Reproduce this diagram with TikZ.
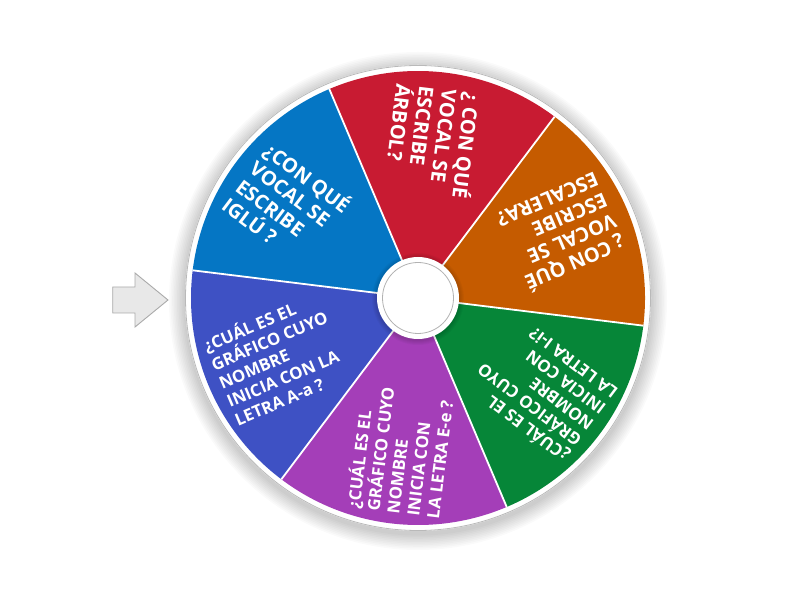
\documentclass[tikz,border=0pt]{standalone}
\usepackage{fontspec}
\setmainfont{Open Sans}
\definecolor{segred}{RGB}{200,27,50}
\definecolor{segorange}{RGB}{197,91,0}
\definecolor{seggreen}{RGB}{6,134,56}
\definecolor{segpurple}{RGB}{164,62,184}
\definecolor{segindigo}{RGB}{62,81,196}
\definecolor{segblue}{RGB}{5,118,196}
\definecolor{arrowfill}{RGB}{232,232,232}
\definecolor{arrowline}{RGB}{170,170,170}
\tikzset{
  wtext/.style={text=white, font=\bfseries\fontsize{16.8}{20}\selectfont, align=left, inner sep=0pt, anchor=west},
  bigtext/.style={wtext, font=\bfseries\fontsize{20}{23}\selectfont},
  sepline/.style={white, line width=1.8pt},
}
\begin{document}
\begin{tikzpicture}[x=1pt,y=1pt]
\useasboundingbox[fill=white] (0,0) rectangle (800,600);
\coordinate (C) at (418,302);
% soft shadow
\foreach \i in {1,...,10}{
  \fill[black, opacity=0.018] ([yshift=-3]C) circle[radius=233+1.6*\i];
}
% rim
\fill[white] (C) circle[radius=233];
\draw[gray!55, line width=0.8pt] (C) circle[radius=232.5];
% segments
\fill[segred]    (C) -- ++(53:227)  arc[start angle=53,  end angle=113, radius=227] -- cycle;
\fill[segblue]   (C) -- ++(113:227) arc[start angle=113, end angle=173, radius=227] -- cycle;
\fill[segindigo] (C) -- ++(173:227) arc[start angle=173, end angle=233, radius=227] -- cycle;
\fill[segpurple] (C) -- ++(233:227) arc[start angle=233, end angle=293, radius=227] -- cycle;
\fill[seggreen]  (C) -- ++(293:227) arc[start angle=293, end angle=353, radius=227] -- cycle;
\fill[segorange] (C) -- ++(353:227) arc[start angle=353, end angle=413, radius=227] -- cycle;
\foreach \a in {53,113,173,233,293,353}{
  \draw[sepline] (C) -- ++(\a:227);
}
% texts
\node[bigtext, rotate=-97] (tred) at ([shift={(84:211)}]C) {¿ CON QUÉ\\VOCAL SE\\ESCRIBE\\ÁRBOL?};
\node[bigtext, rotate=-37] (tblue) at ([shift={(144:212)}]C) {¿CON QUÉ\\VOCAL SE\\ESCRIBE\\IGLÚ ?};
\node[wtext, rotate=23] (tindigo) at ([shift={(203:216)}]C) {¿CUÁL ES EL\\GRÁFICO CUYO\\NOMBRE\\INICIA CON LA\\LETRA A-a ?};
\node[wtext, rotate=83] (tpurple) at ([shift={(263:217)}]C) {¿CUÁL ES EL\\GRÁFICO CUYO\\NOMBRE\\INICIA CON\\LA LETRA E-e ?};
\node[wtext, rotate=143] (tgreen) at ([shift={(323:216)}]C) {¿CUÁL ES EL\\GRÁFICO CUYO\\NOMBRE\\INICIA CON\\LA LETRA I-i?};
\node[bigtext, rotate=203] (torange) at ([shift={(24:212)}]C) {¿ CON QUÉ\\VOCAL SE\\ESCRIBE\\ESCALERA?};
% hub
\foreach \i in {1,...,5}{
  \fill[black, opacity=0.03] ([yshift=-1]C) circle[radius=41+\i];
}
\fill[white] (C) circle[radius=41];
\draw[gray!60, line width=0.8pt, fill=white] (C) circle[radius=35.5];
% pointer arrow
\draw[arrowline, fill=arrowfill, line width=0.9pt, line join=miter]
  (112.7,287) -- (135,287) -- (135,273) -- (168,300) -- (135,327) -- (135,313) -- (112.7,313) -- cycle;
\end{tikzpicture}
\end{document}
